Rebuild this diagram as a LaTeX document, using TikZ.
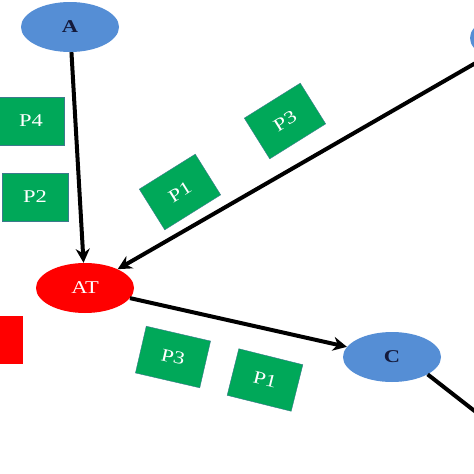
\documentclass[tikz,border=0pt]{standalone}
\usepackage{fontspec}
\setmainfont{Liberation Serif}[FakeStretch=1.25]
\usetikzlibrary{shapes.geometric,arrows.meta}

\definecolor{nodeblue}{HTML}{558ED5}
\definecolor{boxgreen}{HTML}{00A859}
\definecolor{boxedge}{HTML}{3C7A8C}
\definecolor{labelnavy}{HTML}{141A3C}

\tikzset{
    labelfont/.style={font=\fontsize{18}{21}\selectfont},
    boldlabel/.style={font=\fontsize{18}{21}\selectfont\bfseries},
    pbox/.style={rectangle,fill=boxgreen,draw=boxedge,thin,text=white,labelfont,
        minimum width=66pt,minimum height=48pt,inner sep=0pt},
}

\begin{document}
\begin{tikzpicture}[x=1pt,y=-1pt]
    \clip (0,0) rectangle (474,474);

    \begin{scope}[every node/.style={ellipse,minimum width=98pt,minimum height=50pt,inner sep=0pt,labelfont}]
        \node[fill=nodeblue,text=labelnavy,boldlabel] (A) at (70, 27) {A};
        \node[fill=nodeblue] (B) at (519, 38) {};  % mostly off the page
        \node[fill=red,text=white] (AT) at (85, 288) {AT};
        \node[fill=nodeblue,text=labelnavy,boldlabel] (C) at (392, 357) {C};
    \end{scope}

    \coordinate (C_out) at (540, 462);  % next node, off the page

    \begin{scope}[every node/.style={pbox}]
        \node (P4_a) at (31, 121) {P4};
        \node (P2_a) at (35, 197) {P2};
        \node[fill=red,draw=none] (R_a) at (-10, 340) {};

        \node[rotate=32] (P1_a) at (180, 192) {P1};  % along B -- AT
        \node[rotate=32] (P3_a) at (285, 121) {P3};

        \node[rotate=-13] (P3_b) at (173, 357) {P3};  % along AT -- C
        \node[rotate=-14] (P1_b) at (265, 380) {P1};
    \end{scope}

    \begin{scope}[every edge/.style={draw=black,line width=4pt,-{Stealth[length=14pt,width=14pt]}}]
        \path (A) edge (AT);
        \path (B) edge (AT);
        \path (AT) edge (C);
        \path (C.-26) edge[-] (C_out);
    \end{scope}
\end{tikzpicture}
\end{document}
